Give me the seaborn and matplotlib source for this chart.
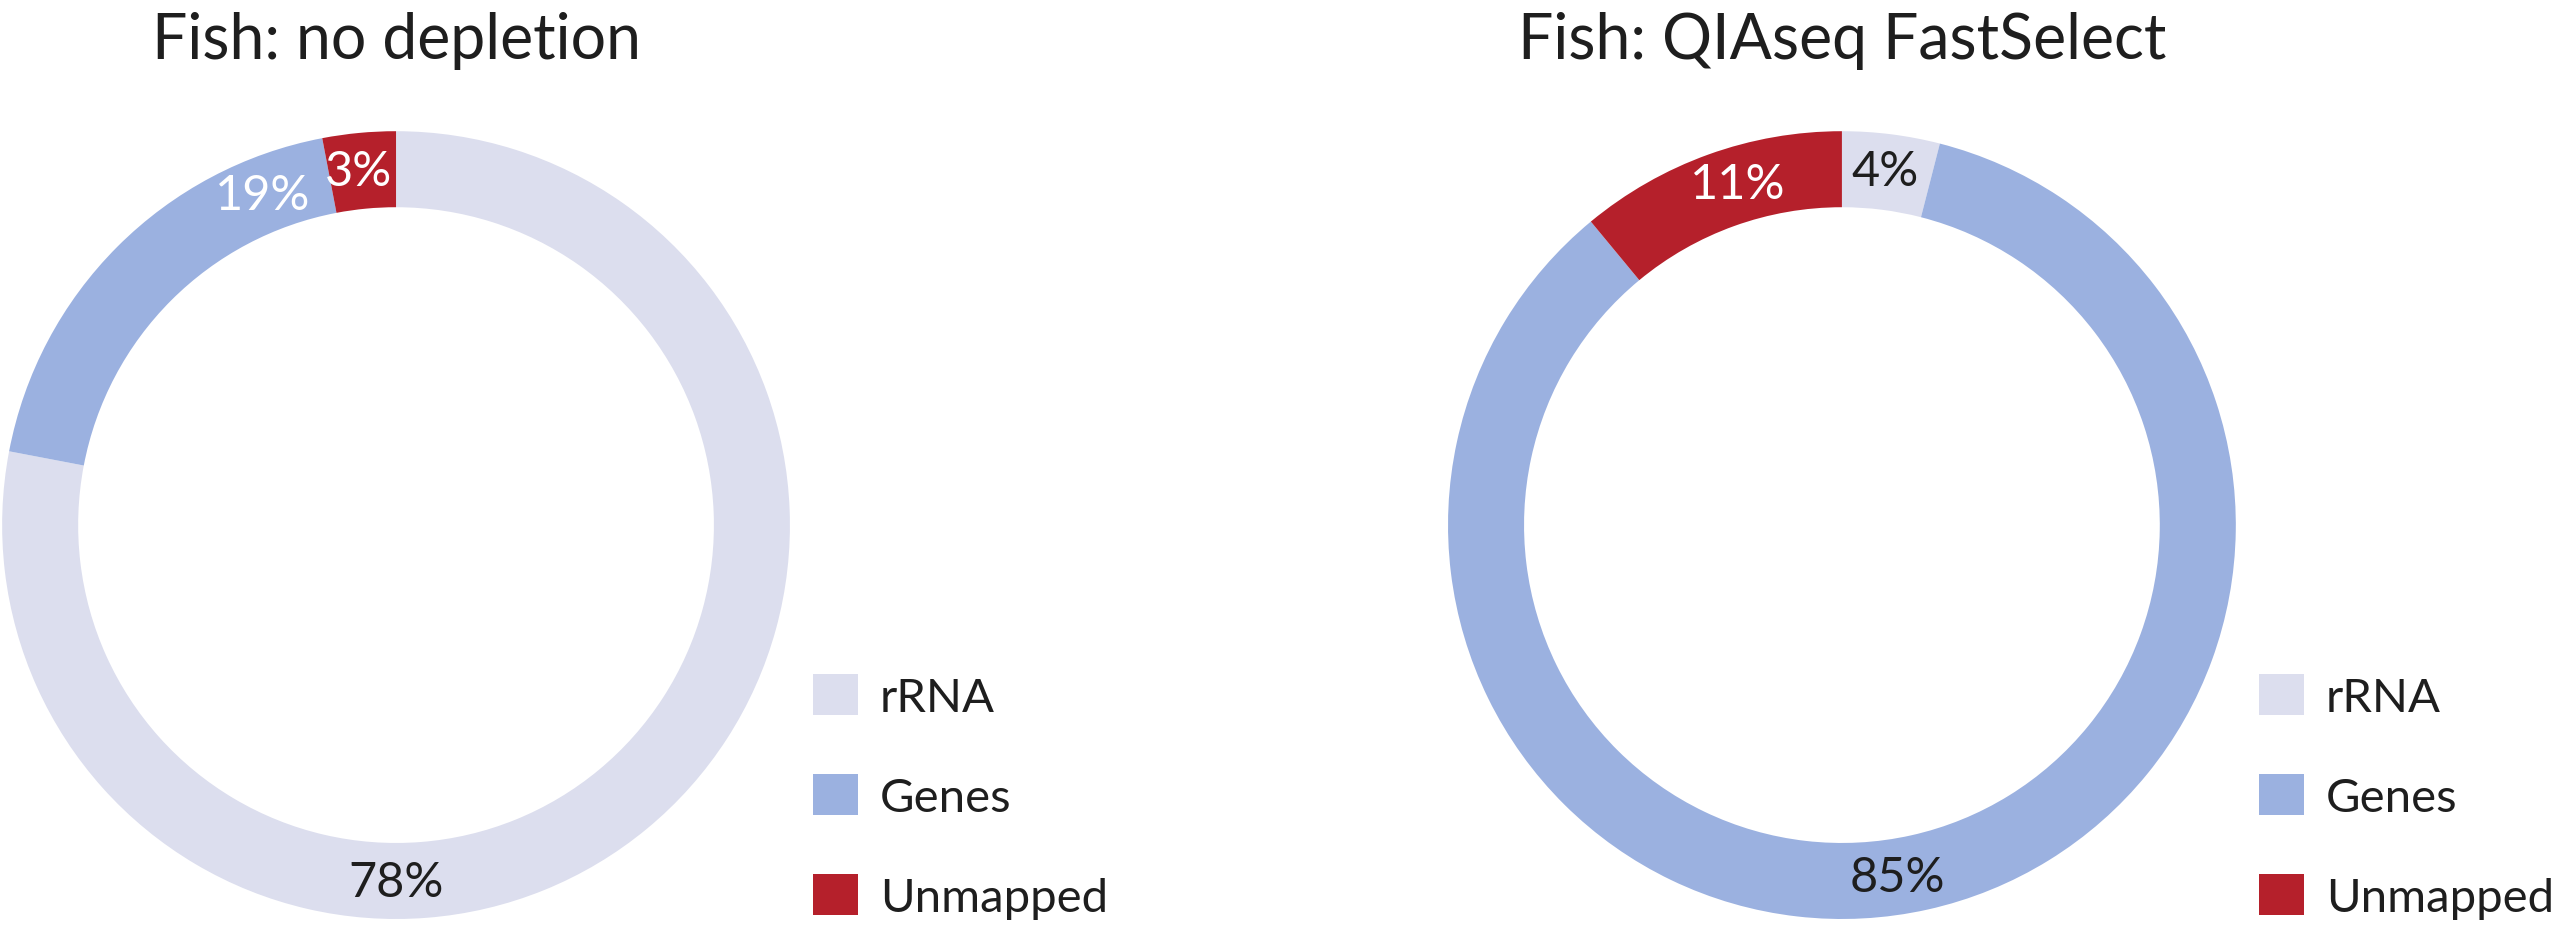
import numpy as np
import matplotlib
matplotlib.use("Agg")
import matplotlib.pyplot as plt
import seaborn as sns

# data
categories = ["rRNA", "Genes", "Unmapped"]
titles = ["Fish: no depletion", "Fish: QIAseq FastSelect"]
no_depletion = [78, 19, 3]
fastselect = [4, 85, 11]

colors = ["#dcdeee", "#9bb1e0", "#b5202b"]
dark = "#1e1e1e"

# where each percentage label sits (degrees), and its colour
label_angles = [[-90, 112, 96], [83, -81, 107]]
label_colors = [[dark, "white", "white"], [dark, dark, "white"]]


def draw_donut(ax, values, title, angles, tcolors):
    wedges, _ = ax.pie(values, colors=colors, startangle=90, counterclock=False,
                       radius=1.0, wedgeprops=dict(width=0.193, linewidth=0))
    for v, a, c in zip(values, angles, tcolors):
        r = 0.905
        t = np.deg2rad(a)
        ax.text(r * np.cos(t), r * np.sin(t), f"{v}%", ha="center", va="center",
                fontsize=35, color=c)
    ax.set_xlim(-1, 1)
    ax.set_ylim(-1, 1)
    ax.set_aspect("equal")
    ax.set_title(title, fontsize=45, color=dark, pad=53)
    ax.legend(wedges, categories, loc="upper left", bbox_to_anchor=(1.029, 0.311),
              frameon=False, fontsize=34, handlelength=0.96, handleheight=0.96,
              handletextpad=0.46, labelspacing=1.17, borderpad=0, borderaxespad=0,
              labelcolor=dark)
    return wedges


def main():
    sns.set_theme(style="white")
    plt.rcParams["font.family"] = ["Lato", "DejaVu Sans"]

    fig = plt.figure(figsize=(25.6, 9.29), dpi=100)
    ax1 = fig.add_axes([0.0008, 0.0097, 0.3078, 0.848])
    ax2 = fig.add_axes([0.5656, 0.0097, 0.3078, 0.848])

    draw_donut(ax1, no_depletion, titles[0], label_angles[0], label_colors[0])
    draw_donut(ax2, fastselect, titles[1], label_angles[1], label_colors[1])

    fig.savefig("out.png", dpi=100, facecolor="white")
    plt.close(fig)


if __name__ == "__main__":
    main()
